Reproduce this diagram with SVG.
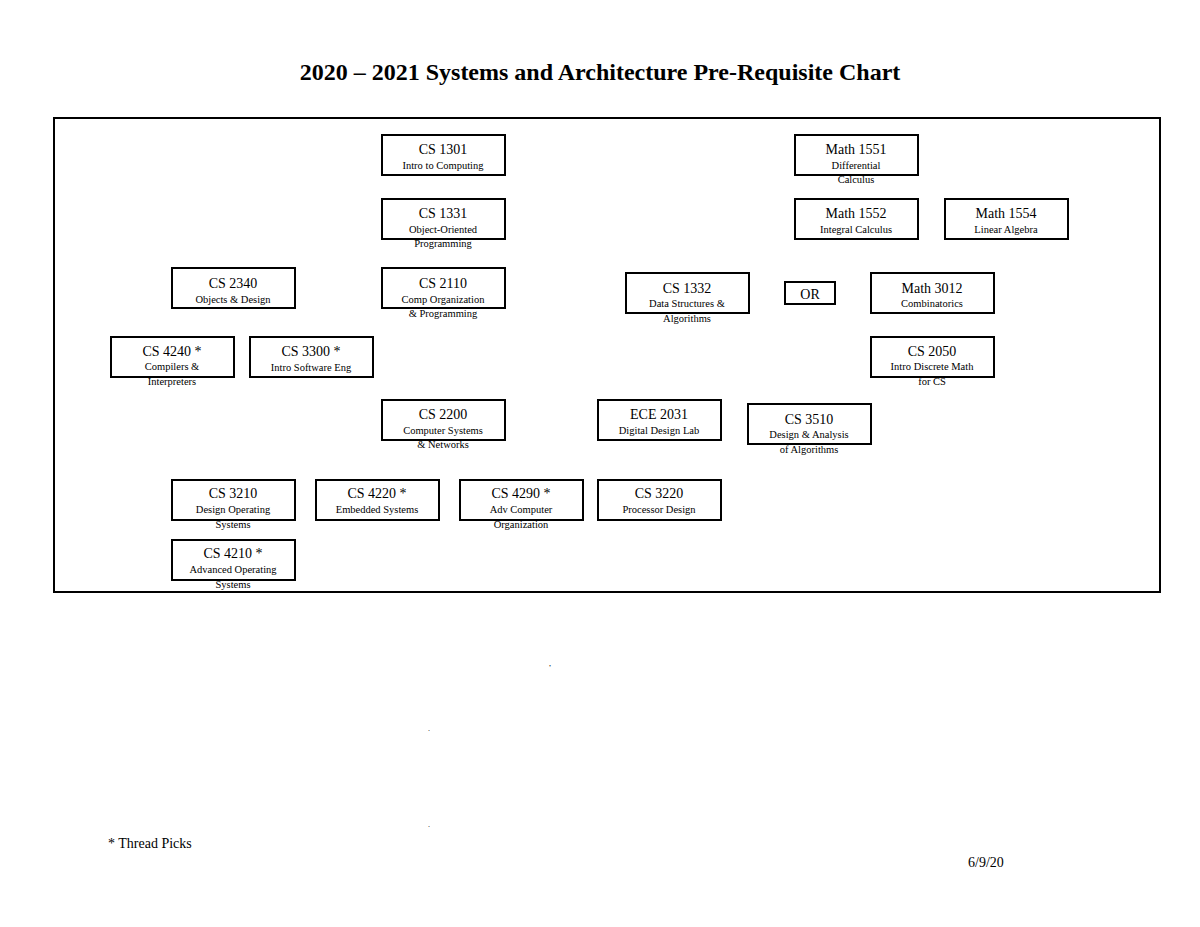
<svg xmlns="http://www.w3.org/2000/svg" width="1200" height="927" viewBox="0 0 1200 927">
<style>
text{font-family:"Liberation Serif","Times New Roman",serif;fill:#000}
.b{fill:#fff;stroke:#000;stroke-width:2}
.c{font-size:14px;text-anchor:middle}
.s{font-size:10.5px;text-anchor:middle}
</style>
<rect width="1200" height="927" fill="#fff"/>
<text x="600" y="80" font-size="24" font-weight="bold" text-anchor="middle">2020 – 2021 Systems and Architecture Pre-Requisite Chart</text>
<rect x="54" y="118" width="1106" height="474" fill="none" stroke="#000" stroke-width="2"/>
<g id="cs1301"><rect class="b" x="382" y="135" width="123" height="40"/><text class="c" x="443" y="154">CS 1301</text><text class="s" x="443" y="169">Intro to Computing</text></g>
<g id="math1551"><rect class="b" x="795" y="135" width="123" height="40"/><text class="c" x="856" y="154">Math 1551</text><text class="s" x="856" y="169">Differential</text><text class="s" x="856" y="183">Calculus</text></g>
<g id="cs1331"><rect class="b" x="382" y="199" width="123" height="40"/><text class="c" x="443" y="218">CS 1331</text><text class="s" x="443" y="233">Object-Oriented</text><text class="s" x="443" y="247">Programming</text></g>
<g id="math1552"><rect class="b" x="795" y="199" width="123" height="40"/><text class="c" x="856" y="218">Math 1552</text><text class="s" x="856" y="233">Integral Calculus</text></g>
<g id="math1554"><rect class="b" x="945" y="199" width="123" height="40"/><text class="c" x="1006" y="218">Math 1554</text><text class="s" x="1006" y="233">Linear Algebra</text></g>
<g id="cs2340"><rect class="b" x="172" y="268" width="123" height="40"/><text class="c" x="233" y="288">CS 2340</text><text class="s" x="233" y="303">Objects &amp; Design</text></g>
<g id="cs2110"><rect class="b" x="382" y="268" width="123" height="40"/><text class="c" x="443" y="288">CS 2110</text><text class="s" x="443" y="303">Comp Organization</text><text class="s" x="443" y="317">&amp; Programming</text></g>
<g id="cs1332"><rect class="b" x="626" y="273" width="123" height="40"/><text class="c" x="687" y="293">CS 1332</text><text class="s" x="687" y="307">Data Structures &amp;</text><text class="s" x="687" y="322">Algorithms</text></g>
<g id="or"><rect class="b" x="785" y="282" width="50" height="22"/><text class="c" x="810" y="299">OR</text></g>
<g id="math3012"><rect class="b" x="871" y="273" width="123" height="40"/><text class="c" x="932" y="293">Math 3012</text><text class="s" x="932" y="307">Combinatorics</text></g>
<g id="cs4240"><rect class="b" x="111" y="337" width="123" height="40"/><text class="c" x="172" y="356">CS 4240 *</text><text class="s" x="172" y="370">Compilers &amp;</text><text class="s" x="172" y="385">Interpreters</text></g>
<g id="cs3300"><rect class="b" x="250" y="337" width="123" height="40"/><text class="c" x="311" y="356">CS 3300 *</text><text class="s" x="311" y="371">Intro Software Eng</text></g>
<g id="cs2050"><rect class="b" x="871" y="337" width="123" height="40"/><text class="c" x="932" y="356">CS 2050</text><text class="s" x="932" y="370">Intro Discrete Math</text><text class="s" x="932" y="385">for CS</text></g>
<g id="cs2200"><rect class="b" x="382" y="400" width="123" height="40"/><text class="c" x="443" y="419">CS 2200</text><text class="s" x="443" y="434">Computer Systems</text><text class="s" x="443" y="448">&amp; Networks</text></g>
<g id="ece2031"><rect class="b" x="598" y="400" width="123" height="40"/><text class="c" x="659" y="419">ECE 2031</text><text class="s" x="659" y="434">Digital Design Lab</text></g>
<g id="cs3510"><rect class="b" x="748" y="404" width="123" height="40"/><text class="c" x="809" y="424">CS 3510</text><text class="s" x="809" y="438">Design &amp; Analysis</text><text class="s" x="809" y="453">of Algorithms</text></g>
<g id="cs3210"><rect class="b" x="172" y="480" width="123" height="40"/><text class="c" x="233" y="498">CS 3210</text><text class="s" x="233" y="513">Design Operating</text><text class="s" x="233" y="528">Systems</text></g>
<g id="cs4220"><rect class="b" x="316" y="480" width="123" height="40"/><text class="c" x="377" y="498">CS 4220 *</text><text class="s" x="377" y="513">Embedded Systems</text></g>
<g id="cs4290"><rect class="b" x="460" y="480" width="123" height="40"/><text class="c" x="521" y="498">CS 4290 *</text><text class="s" x="521" y="513">Adv Computer</text><text class="s" x="521" y="528">Organization</text></g>
<g id="cs3220"><rect class="b" x="598" y="480" width="123" height="40"/><text class="c" x="659" y="498">CS 3220</text><text class="s" x="659" y="513">Processor Design</text></g>
<g id="cs4210"><rect class="b" x="172" y="540" width="123" height="40"/><text class="c" x="233" y="558">CS 4210 *</text><text class="s" x="233" y="573">Advanced Operating</text><text class="s" x="233" y="588">Systems</text></g>
<g id="connectors"></g>
<text x="549" y="666" font-size="8">,</text>
<text x="428" y="731" font-size="8">.</text>
<text x="428" y="827" font-size="8">.</text>
<text x="108" y="848" font-size="14">*  Thread Picks</text>
<text x="968" y="867" font-size="14">6/9/20</text>
</svg>
